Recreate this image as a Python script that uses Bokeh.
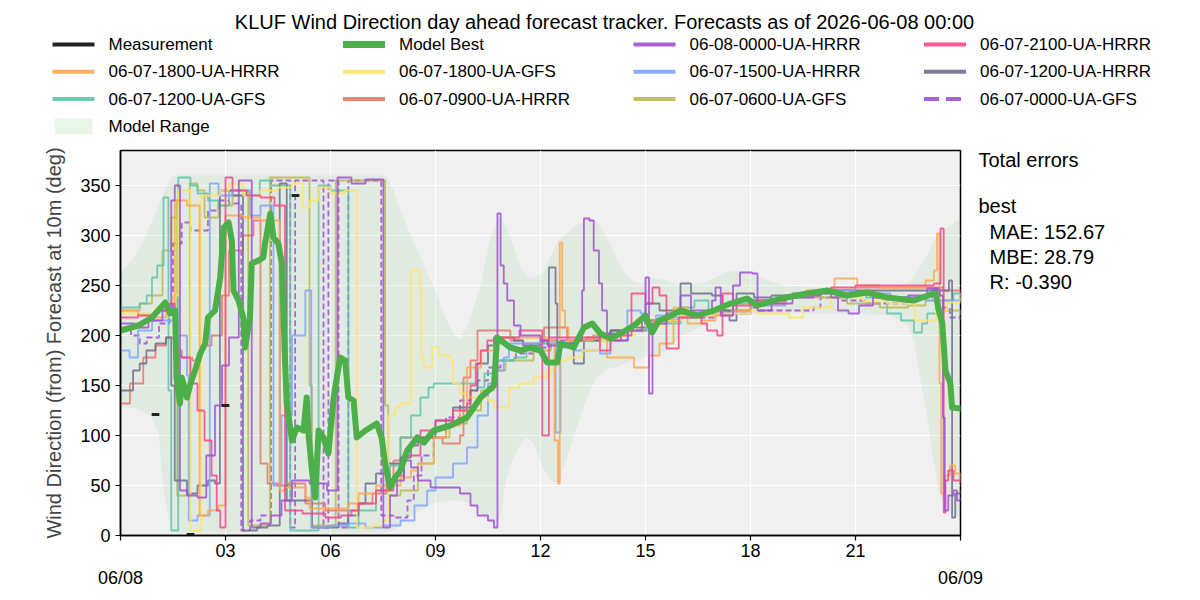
from bokeh.plotting import figure
from bokeh.models import (ColumnDataSource, FixedTicker, Range1d, LinearAxis)
from bokeh.layouts import column
from bokeh.core.properties import value
from bokeh.embed import file_html
from bokeh.resources import INLINE

# ---------------- data (hours after 06/08 00:00, wind direction deg) ----------------
title_text = "KLUF Wind Direction day ahead forecast tracker. Forecasts as of 2026-06-08 00:00"
x_ticks = [0, 3, 6, 9, 12, 15, 18, 21, 24]
x_tick_labels = ["", "03", "06", "09", "12", "15", "18", "21", ""]
date_labels = ["06/08", "06/09"]
date_label_hours = [0, 24]
y_ticks = [0, 50, 100, 150, 200, 250, 300, 350]

meas_t = [1, 2, 3, 5]
meas_v = [121, 1, 130, 340]

best = [(0,205),(0.51,210),(0.9,218),(1.28,233),(1.42,222),(1.56,225),(1.6,158),(1.7,132),(1.75,158),(1.9,138),
        (2.0,152),(2.13,165),(2.28,182),(2.42,192),(2.5,218),(2.7,225),(2.85,258),(2.95,308),(3.09,313),(3.18,295),
        (3.23,245),(3.37,235),(3.51,218),(3.56,188),(3.7,218),(3.75,272),(3.94,275),(4.08,278),(4.13,292),(4.28,322),
        (4.37,298),(4.51,292),(4.61,272),(4.69,185),(4.75,132),(4.9,95),(5.04,108),(5.23,105),(5.32,138),(5.37,102),
        (5.47,65),(5.56,38),(5.66,105),(5.8,98),(5.94,82),(6.09,138),(6.18,158),(6.28,178),(6.42,175),(6.51,138),
        (6.66,135),(6.75,98),(7.0,105),(7.32,112),(7.46,98),(7.56,72),(7.7,48),(7.85,58),(8.0,65),(8.19,85),
        (8.48,98),(8.67,93),(8.95,105),(9.43,110),(9.9,118),(10.29,138),(10.67,150),(10.76,198),(11.14,188),(11.43,185),
        (11.71,188),(12.0,185),(12.19,173),(12.48,173),(12.57,192),(12.95,188),(13.24,208),(13.48,212),(13.71,202),(14.0,197),
        (14.29,202),(14.67,210),(15.0,220),(15.19,203),(15.38,215),(15.62,218),(16.0,225),(16.48,220),(16.95,225),(17.43,232),
        (17.9,237),(18.19,230),(18.86,237),(19.62,242),(20.19,245),(20.76,240),(21.33,243),(21.9,238),(22.67,235),(23.24,242),
        (23.29,242),(23.38,225),(23.48,212),(23.57,165),(23.71,152),(23.76,128),(24.0,127)]

hrrr_0800_0000 = [(0,212),(0.4,208),(0.8,215),(1.2,225),(1.45,335),(1.55,350),(1.7,45),(1.9,40),(2.2,38),(2.45,80),
        (2.7,130),(2.9,170),(3.1,198),(3.38,355),(3.75,8),(4.0,12),(4.3,20),(4.6,35),(4.9,55),(5.4,52),(5.9,45),(6.2,358),
        (6.6,352),(7.0,356),(7.51,8),(7.7,40),(7.9,55),(8.1,75),(8.3,68),(8.5,55),(8.86,48),(9.4,48),(9.7,42),(10.0,30),
        (10.2,20),(10.5,15),(10.67,8),(10.77,322),(10.86,270),(10.95,252),(11.05,235),(11.24,210),(11.43,200),(12.0,195),
        (12.2,190),(12.6,192),(13.0,195),(13.19,245),(13.24,317),(13.4,315),(13.52,285),(13.67,252),(13.76,225),(13.9,202),
        (14.1,195),(14.5,205),(14.9,215),(15.0,258),(15.1,142),(15.2,212),(15.6,222),(16.0,240),(16.3,225),(16.9,235),
        (17.0,248),(17.15,220),(17.5,250),(17.7,263),(18.05,262),(18.2,225),(18.6,232),(19.2,238),(19.8,242),(20.3,238),
        (20.5,225),(20.8,222),(21.1,230),(21.5,238),(22.5,240),(23.05,247),(23.4,240),(23.5,118),(23.55,25),(23.65,40),
        (23.8,45),(23.9,35),(24.0,38)]

hrrr_0721 = [(0,218),(0.5,220),(1.0,225),(1.4,232),(1.55,180),(1.75,178),(2.0,152),(2.2,125),(2.4,95),(2.6,60),
        (2.75,25),(2.85,8),(3.0,358),(3.2,345),(3.6,340),(4.0,338),(4.4,330),(4.7,25),(5.2,22),(5.85,18),(6.3,20),
        (6.6,25),(6.8,32),(7.3,45),(7.8,60),(8.1,80),(8.57,105),(9.0,115),(9.5,125),(9.9,132),(10.0,150),(10.15,172),
        (10.29,185),(10.48,195),(10.86,198),(11.4,205),(12.0,205),(12.05,100),(12.24,198),(13.3,198),(13.7,185),(14.0,195),
        (14.3,200),(14.6,242),(15.0,232),(15.2,248),(15.4,240),(15.6,187),(15.95,218),(16.6,212),(16.76,205),(17.05,200),
        (17.2,242),(17.5,230),(18.0,235),(19.0,240),(20.0,245),(20.3,248),(21.0,250),(22.0,250),(23.24,252),(23.43,307),
        (23.52,23),(23.57,55),(23.65,65),(23.8,55),(24.0,52)]

hrrr_0718 = [(0,225),(0.5,220),(0.9,218),(1.3,225),(1.55,335),(1.9,330),(2.26,20),(2.5,25),(2.8,30),(3.0,320),
        (3.5,318),(4.0,315),(4.5,315),(4.55,45),(4.7,48),(5.3,38),(5.4,27),(6.3,27),(6.5,32),(6.8,42),(7.3,50),(8.0,58),
        (8.3,65),(8.5,72),(8.95,98),(9.3,110),(9.7,125),(9.9,168),(10.3,185),(10.67,192),(10.86,198),(12.2,195),(12.4,95),
        (12.5,52),(12.55,293),(12.62,225),(12.7,208),(12.8,195),(13.5,200),(13.9,178),(14.5,178),(14.67,168),(14.95,168),
        (15.1,180),(15.4,192),(15.6,192),(15.8,228),(16.2,212),(16.6,215),(17.0,220),(17.5,225),(18.0,232),(19.0,240),
        (19.6,245),(20.4,257),(21.05,250),(21.7,248),(23.0,255),(23.24,265),(23.33,302),(23.4,152),(23.45,42),(23.55,60),
        (23.7,70),(23.85,62),(24.0,55)]

gfs_0718 = [(0,222),(0.5,222),(1.0,228),(1.3,233),(1.5,240),(1.65,345),(1.95,345),(2.0,5),(2.3,340),(2.84,345),
        (3.1,352),(3.5,340),(4.0,345),(4.5,348),(4.9,352),(5.2,328),(5.4,335),(5.66,348),(6.0,342),(6.4,345),(6.75,8),
        (7.2,10),(7.5,15),(7.65,120),(7.85,128),(8.0,132),(8.3,265),(8.57,245),(8.6,178),(8.67,168),(8.9,188),(9.1,180),
        (9.43,175),(9.5,152),(9.7,142),(9.9,138),(10.5,135),(10.67,128),(10.95,128),(11.1,148),(11.4,152),(11.8,158),
        (12.2,165),(12.4,175),(12.76,178),(13.2,185),(13.7,195),(14.2,200),(14.7,210),(15.5,215),(16.0,220),(17.0,222),
        (18.0,225),(18.2,222),(19.1,218),(19.5,228),(20.3,243),(20.8,238),(21.2,235),(21.9,232),(22.7,215),(23.05,215),
        (23.3,225),(23.6,233),(24.0,242)]

hrrr_0715 = [(0,185),(0.26,178),(0.5,205),(0.9,215),(1.4,215),(1.6,200),(1.9,160),(1.95,15),(2.2,20),(2.55,352),
        (2.8,340),(3.2,345),(3.7,320),(4.0,330),(4.37,50),(4.6,120),(4.9,200),(5.28,245),(5.45,8),(6.0,10),(6.5,12),
        (7.0,8),(7.5,10),(8.0,15),(8.4,30),(8.76,45),(9.0,58),(9.5,72),(9.9,88),(10.2,120),(10.5,152),(10.67,165),
        (10.95,178),(11.1,192),(12.0,195),(12.43,103),(12.57,188),(13.0,185),(13.7,182),(14.0,195),(14.48,225),(14.86,222),
        (15.0,205),(15.3,220),(15.6,218),(16.0,222),(17.0,222),(18.0,230),(19.0,240),(20.0,245),(21.0,242),(22.0,238),
        (23.0,235),(24.0,238)]

hrrr_0712 = [(0,145),(0.36,165),(0.55,172),(0.74,185),(1.0,192),(1.3,198),(1.45,150),(1.55,55),(1.9,42),(2.2,50),
        (2.5,55),(2.7,52),(2.84,345),(3.2,340),(3.5,5),(3.9,8),(4.2,10),(4.55,352),(4.75,35),(5.47,8),(6.23,12),(6.5,20),
        (6.8,32),(7.0,52),(7.3,62),(7.56,72),(8.0,78),(8.3,90),(8.5,98),(9.0,115),(9.5,128),(10.0,145),(10.2,172),
        (10.5,190),(10.67,198),(11.24,195),(11.5,190),(12.0,195),(12.24,268),(12.43,232),(12.48,192),(12.95,172),
        (13.24,195),(13.7,200),(14.0,205),(14.5,208),(15.0,232),(15.4,225),(15.8,225),(16.0,252),(16.3,242),(16.9,240),
        (17.2,225),(17.4,215),(17.6,242),(18.1,238),(18.6,240),(19.2,242),(20.0,245),(23.4,245),(23.67,255),(23.76,18),
        (23.85,42),(24.0,45)]

gfs_0712 = [(0,228),(0.55,232),(0.75,240),(0.9,258),(1.05,270),(1.23,338),(1.37,145),(1.45,5),(1.65,358),(2.0,350),
        (2.2,342),(2.5,335),(2.8,330),(3.1,345),(3.5,340),(3.98,355),(4.3,350),(4.85,5),(5.66,350),(6.0,345),(6.51,8),
        (6.8,25),(7.3,45),(7.7,70),(8.0,98),(8.3,120),(8.57,138),(8.8,148),(8.95,152),(9.7,152),(10.2,148),(10.4,162),
        (10.67,175),(11.24,178),(11.6,185),(12.0,192),(12.95,195),(13.5,200),(14.0,205),(15.0,212),(16.0,228),(16.4,235),
        (16.8,225),(17.5,232),(18.0,235),(19.0,240),(20.0,242),(21.3,238),(21.9,222),(22.3,215),(22.67,203),(22.9,212),
        (23.05,222),(23.5,235),(23.8,242),(24.0,242)]

hrrr_0709 = [(0,132),(0.27,152),(0.65,178),(1.0,190),(1.3,198),(1.6,185),(1.75,178),(2.05,175),(2.3,190),(2.6,200),
        (2.9,240),(3.1,285),(3.5,300),(3.8,315),(4.0,72),(4.2,52),(4.5,50),(4.8,52),(5.28,32),(5.85,25),(6.8,32),
        (7.2,42),(7.6,55),(7.8,75),(8.0,98),(8.76,98),(9.2,92),(9.7,100),(9.8,158),(10.0,175),(10.2,205),(10.67,205),
        (11.14,195),(11.5,192),(12.1,208),(12.76,195),(13.3,198),(14.0,205),(15.0,215),(16.0,220),(17.0,225),(18.0,235),
        (19.0,240),(20.0,245),(21.0,248),(22.0,248),(23.0,248),(23.5,245),(24.0,240)]

gfs_0706 = [(0,225),(0.55,232),(0.9,240),(1.2,285),(1.45,318),(1.6,335),(1.62,40),(1.98,352),(2.2,345),(2.4,318),
        (2.8,330),(3.2,340),(3.6,345),(3.65,10),(4.27,358),(5.4,150),(5.47,10),(6.15,355),(7.56,130),(7.65,40),(8.0,45),
        (8.5,72),(8.95,98),(9.4,112),(9.9,125),(10.3,145),(10.67,165),(11.0,175),(11.8,185),(12.3,192),(13.0,195),
        (14.0,205),(15.0,215),(16.0,220),(17.0,225),(18.0,232),(19.0,238),(20.3,238),(20.76,232),(21.7,228),(22.5,230),
        (23.0,235),(23.3,225),(24.0,220)]

gfs_0700 = [(0,205),(0.3,200),(0.55,192),(0.75,198),(1.1,212),(1.4,225),(1.5,292),(1.75,313),(2.0,305),(2.5,325),
        (2.8,335),(3.1,332),(3.45,5),(3.7,15),(4.0,20),(4.3,355),(4.85,8),(4.99,355),(5.8,8),(5.94,355),(6.23,8),
        (6.51,355),(7.45,20),(7.8,18),(8.0,18),(8.2,35),(8.38,60),(8.6,80),(8.95,98),(9.3,118),(9.7,135),(10.0,145),
        (10.2,155),(10.5,168),(10.86,175),(11.3,182),(11.8,188),(12.3,195),(13.0,195),(14.0,205),(15.0,215),(16.0,218),
        (17.0,222),(18.0,228),(18.2,225),(19.8,228),(20.0,238),(20.6,235),(21.3,232),(22.5,238),(23.2,246),(23.4,228),
        (23.7,218),(24.0,215)]

band_t = [0, 0.3, 0.6, 0.9, 1.1, 1.2, 1.35, 1.5, 1.6, 7.6, 7.8, 8.0, 8.3, 8.57, 8.95, 9.24, 9.5, 9.7, 10.0, 10.3,
          10.57, 10.76, 10.86, 11.0, 11.14, 11.43, 11.6, 11.81, 12.1, 12.3, 12.5, 12.95, 13.33, 13.6, 13.9, 14.29, 14.6,
          14.86, 15.14, 15.6, 16.0, 16.57, 17.0, 17.4, 18.1, 18.5, 19.0, 20.0, 21.0, 22.0, 22.5, 22.67, 22.86, 23.05,
          23.24, 23.43, 23.6, 24.0]
band_upper = [262, 275, 290, 315, 332, 340, 352, 360, 360, 360, 345, 325, 300, 278, 248, 222, 203, 195, 218, 252,
              298, 315, 318, 310, 298, 268, 260, 257, 265, 280, 295, 308, 317, 315, 298, 268, 255,
              252, 258, 255, 250, 252, 258, 265, 262, 255, 250, 248, 248, 247, 252, 260, 270, 280,
              295, 302, 308, 317]
band_lower = [128, 128, 125, 118, 100, 55, 20, 5, 3, 3, 5, 10, 20, 25, 32, 34, 35, 35, 32, 22,
              12, 8, 20, 52, 70, 92, 98, 92, 65, 55, 52, 98, 138, 158, 166, 170, 175,
              176, 180, 185, 200, 208, 218, 220, 222, 222, 222, 222, 222, 220, 210, 195, 155, 118,
              72, 38, 25, 18]

models = [
    ("06-08-0000-UA-HRRR", hrrr_0800_0000, "#a24fd4", "solid"),
    ("06-07-2100-UA-HRRR", hrrr_0721, "#f7468a", "solid"),
    ("06-07-1800-UA-HRRR", hrrr_0718, "#ffa64d", "solid"),
    ("06-07-1800-UA-GFS", gfs_0718, "#ffe466", "solid"),
    ("06-07-1500-UA-HRRR", hrrr_0715, "#80a3ff", "solid"),
    ("06-07-1200-UA-HRRR", hrrr_0712, "#6c6d8f", "solid"),
    ("06-07-1200-UA-GFS", gfs_0712, "#5fc4aa", "solid"),
    ("06-07-0900-UA-HRRR", hrrr_0709, "#e8756b", "solid"),
    ("06-07-0600-UA-GFS", gfs_0706, "#b9bb50", "solid"),
    ("06-07-0000-UA-GFS", gfs_0700, "#a24fd4", "6 3"),
]

# error summary text (shown right of the plot); anchors in units of the y scale
error_lines = ["Total errors", "best", "\u00a0\u00a0MAE: 152.67", "\u00a0\u00a0MBE: 28.79", "\u00a0\u00a0R: -0.390"]
error_line_anchor = [377, 330, 304, 279, 254]

FONT = "Liberation Sans"
BEST_COLOR = "#4daf4a"
MEAS_COLOR = "#222222"

# ---------------- top strip: title + legend (pixel coordinates) ----------------
top = figure(width=1200, height=148, output_backend="svg", toolbar_location=None,
             x_range=Range1d(0, 1200), y_range=Range1d(148, 0),
             min_border=0, min_border_left=0, min_border_right=0, min_border_top=0, min_border_bottom=0,
             background_fill_color="white", border_fill_color="white")
top.frame_align = False
top.axis.visible = False
top.grid.visible = False
top.outline_line_color = None

top.text(x=[604], y=[21], text=[title_text], text_align="center", text_baseline="middle",
         text_font=value(FONT), text_font_size="20px", text_color="black")

leg_entries = [("Measurement", MEAS_COLOR, "solid", 4, "line"),
               ("Model Best", BEST_COLOR, "solid", 7, "line")]
for name, _, color, dash in models:
    leg_entries.append((name, color, "15 7" if dash != "solid" else "solid", 4, "line"))
leg_entries.append(("Model Range", BEST_COLOR, "solid", 0, "patch"))

col_x0, col_pitch, row_y0, row_pitch = 52, 290.5, 44, 27.3
for i, (lab, color, dash, lw, kind) in enumerate(leg_entries):
    r, c = divmod(i, 4)
    gx = col_x0 + c * col_pitch
    gy = row_y0 + r * row_pitch
    if kind == "line":
        top.segment(x0=[gx], y0=[gy], x1=[gx + 42], y1=[gy], line_color=color, line_width=lw,
                    line_dash=dash, line_alpha=1.0 if i < 2 else 0.9)
    else:
        top.rect(x=[gx + 21], y=[gy], width=38, height=16, fill_color=color, fill_alpha=0.13,
                 line_color=None)
    top.text(x=[gx + 56], y=[gy], text=[lab], text_align="left", text_baseline="middle",
             text_font=value(FONT), text_font_size="17px", text_color="black")

# ---------------- main plot ----------------
p = figure(width=1200, height=452, output_backend="svg", toolbar_location=None,
           x_range=Range1d(0, 24), y_range=Range1d(0, 385),
           min_border_left=120, min_border_right=240, min_border_top=2, min_border_bottom=65,
           background_fill_color="#f0f0f0", border_fill_color="white")
p.frame_align = False
p.outline_line_color = "black"
p.outline_line_width = 1.5

xt = FixedTicker(ticks=x_ticks)
yt = FixedTicker(ticks=y_ticks)
p.xaxis.ticker = xt
p.yaxis.ticker = yt
p.xgrid.ticker = xt
p.ygrid.ticker = yt
p.xaxis.major_label_overrides = {t: lab for t, lab in zip(x_ticks, x_tick_labels)}
for ax in (p.xaxis, p.yaxis):
    ax.major_label_text_font = FONT
    ax.major_label_text_font_size = "18px"
    ax.major_label_text_color = "black"
    ax.major_tick_in = 0
    ax.major_tick_out = 5
    ax.minor_tick_line_color = None
    ax.axis_line_color = "black"
    ax.axis_line_width = 1.5
    ax.major_tick_line_width = 1.2
p.xaxis.major_label_standoff = 3
p.yaxis.major_label_standoff = 5
p.yaxis.axis_label = "Wind Direction (from) Forecast at 10m (deg)"
p.yaxis.axis_label_text_font = FONT
p.yaxis.axis_label_text_font_size = "20px"
p.yaxis.axis_label_text_font_style = "normal"
p.yaxis.axis_label_standoff = 12
p.xgrid.grid_line_color = "white"
p.ygrid.grid_line_color = "white"

date_axis = LinearAxis(ticker=FixedTicker(ticks=date_label_hours),
                       major_label_overrides={h: lab for h, lab in zip(date_label_hours, date_labels)},
                       axis_line_color=None, major_tick_line_color=None, minor_tick_line_color=None,
                       major_tick_out=0, major_tick_in=0,
                       major_label_standoff=8, major_label_text_font=FONT,
                       major_label_text_font_size="18px", major_label_text_color="black")
p.add_layout(date_axis, "below")

err_axis = LinearAxis(ticker=FixedTicker(ticks=error_line_anchor),
                      major_label_overrides={a: t for a, t in zip(error_line_anchor, error_lines)},
                      axis_line_color=None, major_tick_line_color=None, minor_tick_line_color=None,
                      major_tick_out=0, major_tick_in=0,
                      major_label_standoff=18, major_label_text_font=FONT,
                      major_label_text_font_size="20px", major_label_text_color="black")
p.add_layout(err_axis, "right")

band_src = ColumnDataSource(dict(t=band_t, lo=band_lower, hi=band_upper))
p.varea(x="t", y1="lo", y2="hi", source=band_src, fill_color=BEST_COLOR, fill_alpha=0.09)

for name, data, color, dash in reversed(models):
    src = ColumnDataSource(dict(t=[d[0] for d in data], v=[d[1] for d in data]))
    p.step(x="t", y="v", source=src, mode="after", line_color=color, line_width=1.8,
           line_alpha=0.85, line_dash=dash)

best_src = ColumnDataSource(dict(t=[d[0] for d in best], v=[d[1] for d in best]))
p.line(x="t", y="v", source=best_src, line_color=BEST_COLOR, line_width=6,
       line_join="round", line_cap="round")

meas_src = ColumnDataSource(dict(x0=[t - 0.11 for t in meas_t], x1=[t + 0.11 for t in meas_t],
                                 y=meas_v))
p.segment(x0="x0", y0="y", x1="x1", y1="y", source=meas_src, line_color=MEAS_COLOR, line_width=3)

layout = column(top, p, spacing=0)
open("out.html", "w").write(file_html(layout, INLINE))
